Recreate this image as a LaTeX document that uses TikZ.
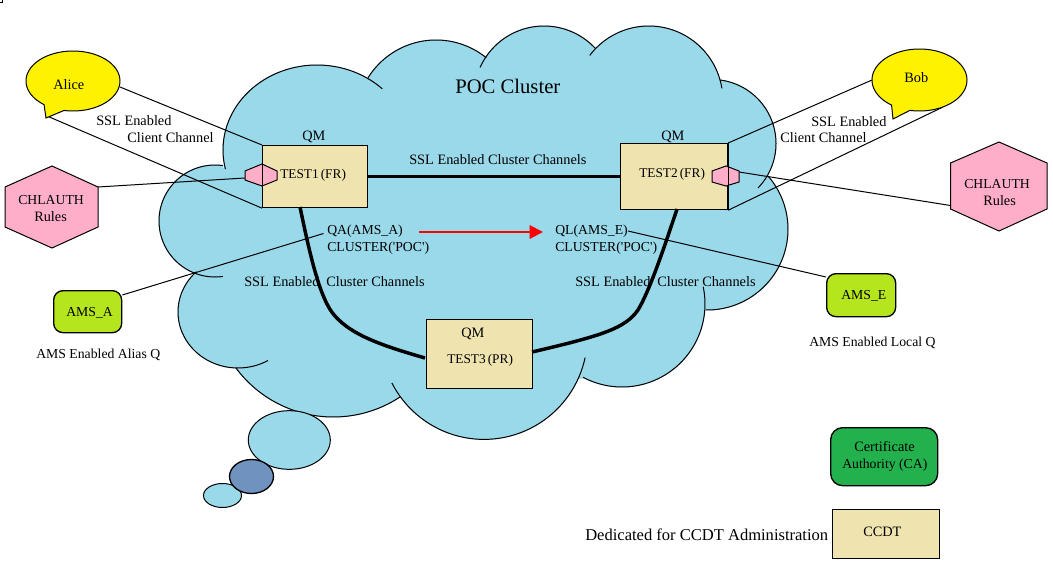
\documentclass[tikz,border=0pt]{standalone}
\usepackage{fontspec}
\setmainfont{Liberation Serif}[Ligatures=TeXOff]
\usetikzlibrary{arrows.meta,shapes.geometric}
\definecolor{cloudc}{HTML}{99D9EA}
\definecolor{tanc}{HTML}{EFE4B0}
\definecolor{pinkc}{HTML}{FFAEC9}
\definecolor{yelc}{HTML}{FFF200}
\definecolor{cagreen}{HTML}{22B14C}
\definecolor{limec}{HTML}{B5E61D}
\definecolor{darkb}{HTML}{7092BE}
% each lobe: centre x, centre y, radius x, radius y, start angle, end angle
\newcommand\cloudlobes[1]{%
#1{317}{150}{94}{85}{167}{314}%
#1{436}{120}{80}{80}{212}{309}%
#1{544}{96}{70}{70}{204}{317}%
#1{648.8}{100}{74}{74}{217}{351}%
#1{712}{143.5}{64}{64}{-83}{44}%
#1{707.2}{229.2}{80.8}{80.8}{-41}{91}%
#1{622}{304}{83}{83}{-12}{118}%
#1{484}{336}{103.4}{103.4}{12}{153}%
#1{333.3}{295.8}{121.2}{121.2}{56.6}{143.4}%
#1{238}{312}{60}{56}{60}{226}%
#1{215}{221}{56}{56}{82}{278}%
}
\newcommand\filllobe[6]{\filldraw[fill=cloudc,draw=cloudc,line width=0.7pt] plot[domain=#5:#6,samples=50] ({#1+#3*cos(\x)},{#2+#4*sin(\x)}) -- cycle;}
\newcommand\drawlobe[6]{\draw[thinl] plot[domain=#5:#6,samples=50] ({#1+#3*cos(\x)},{#2+#4*sin(\x)});}
\tikzset{
 thinl/.style={draw=black,line width=0.75pt},
 thickl/.style={draw=black,line width=2.6pt,line join=round},
 qmbox/.style={draw=black,line width=0.9pt,fill=tanc,rectangle,inner sep=0pt,anchor=north west},
 roundbox/.style={draw=black,line width=1pt,rectangle,rounded corners=7pt,inner sep=0pt,anchor=north west},
 txt/.style={anchor=base west,inner sep=0pt,font=\fontsize{10.75pt}{12pt}\selectfont,text=black},
 txts/.style={txt,font=\fontsize{10.3pt}{12pt}\selectfont},
 txtq/.style={txt,font=\fontsize{10pt}{12pt}\selectfont},
 hexa/.style={draw=black,line width=0.75pt,fill=pinkc},
 bubble/.style={draw=black,line width=0.75pt,ellipse,inner sep=0pt},
}
\begin{document}
\begin{tikzpicture}[x=0.75pt,y=-0.75pt]
\useasboundingbox (0,0) rectangle (1053,571);
\draw[thinl] (0,2.5) -- (2.5,2.5) -- (2.5,0);
% cloud
\cloudlobes\filllobe
\filldraw[fill=cloudc,draw=cloudc,line width=0.7pt] (224,168)--(368,78)--(487,58)--(595,48)--(722,88)--(768,177)--(706,310)--(583,378)--(400,397)--(236,368)--(197,272)--cycle;
\cloudlobes\drawlobe
% thought bubbles
\node[bubble,fill=cloudc,minimum width=61.5pt,minimum height=44pt] (th1) at (289.3,440) {};
\node[bubble,fill=cloudc,minimum width=28.5pt,minimum height=18pt] (th3) at (222.5,495.5) {};
\node[bubble,fill=darkb,line width=1pt,minimum width=33pt,minimum height=25.5pt] (th2) at (251.5,476.5) {};
% coordinates for connector ends
\coordinate (alicer) at (120,87);
\coordinate (alicet) at (47,116);
\coordinate (bobl) at (872,80);
\coordinate (bobb) at (943,107);
\coordinate (hexLr) at (98,187);
\coordinate (hexsL) at (245,178);
\coordinate (hexRl) at (950.5,205.5);
\coordinate (hexsR) at (739,172);
\coordinate (qae) at (323.5,233.5);
\coordinate (qle) at (628,231);
% QM boxes
\node[qmbox,minimum width=78.75pt,minimum height=46.5pt] (t1) at (262,145) {};
\node[qmbox,minimum width=80.25pt,minimum height=49.5pt] (t2) at (620,143) {};
\node[qmbox,minimum width=79.5pt,minimum height=51.75pt] (t3) at (426,319) {};
% AMS boxes
\node[roundbox,fill=limec,minimum width=51pt,minimum height=31.5pt] (amsa) at (53,290) {};
\node[roundbox,fill=limec,minimum width=51.75pt,minimum height=32.25pt] (amse) at (826,273) {};
% thin connectors
\draw[thinl] (alicer) -- (t1.north west);
\draw[thinl] (alicet) -- (t1.south west);
\draw[thinl] (bobl) -- (t2.north east);
\draw[thinl] (bobb) -- (t2.south east);
\draw[thinl] (hexLr) -- (hexsL);
\draw[thinl] (hexRl) -- (hexsR);
\draw[thinl] (amsa.north east) ++(0,5) -- (qae);
\draw[thinl] (amse.north west) ++(0,4) -- (qle);
% thick connectors
\draw[thickl] (t1.east) -- (t2.west |- t1.east);
\coordinate (t1b) at (300,207);
\coordinate (t3l) at (425,358);
\coordinate (t2b) at (677,209);
\coordinate (t3r) at (532,352);
\draw[thickl] (t1b) .. controls (310,255) and (320,300) .. (335,316) .. controls (352,335) and (380,345) .. (t3l);
\draw[thickl] (t2b) .. controls (665,245) and (650,290) .. (638,310) .. controls (625,328) and (605,335) .. (t3r);
% hexagons
\draw[hexa] (52,166)--(98,187)--(98,227)--(52,248)--(5,227)--(5,187)--cycle;
\draw[hexa] (999,142)--(1047,163)--(1047,209)--(999,231)--(950.5,209)--(950.5,163)--cycle;
\draw[hexa] (262,164)--(277,171)--(277,180)--(262,186)--(245,180)--(245,171)--cycle;
\draw[hexa] (726,166)--(739,171)--(739,182)--(726,186)--(712,182)--(712,171)--cycle;
\draw[thinl] (t1.north west) -- (t1.south west);
\draw[thinl] (t2.north east) -- (t2.south east);
% speech bubbles
\draw[thinl,fill=yelc] plot[domain=101:-232,samples=80,smooth] ({73+47*cos(\x)},{81+30*sin(\x)}) -- (46,118) -- cycle;
\draw[thinl,fill=yelc] plot[domain=101.7:-234,samples=80,smooth] ({919.5+47.5*cos(\x)},{80+31*sin(\x)}) -- (893,119) -- cycle;
% lower right boxes
\node[roundbox,fill=cagreen,rounded corners=9pt,minimum width=80.25pt,minimum height=43.5pt] (ca) at (830,427) {};
\node[qmbox,minimum width=80.25pt,minimum height=36.75pt] (ccdt) at (832,509) {};
% red arrow
\coordinate (ra) at (419,232);
\coordinate (rb) at (543,232);
\draw[draw=red,fill=red,line width=1.5pt,-{Triangle[length=10pt,width=10pt,fill=red]}] (ra) -- (rb);
% text
\node[txt,font=\fontsize{15.5pt}{18pt}\selectfont] (poc) at (455,93) {POC Cluster};
\node[txt] (lalice) at (53,89) {Alice};
\node[txt] (lbob) at (904,82) {Bob};
\node[txt] (s1a) at (96,125) {SSL Enabled};
\node[txt] (s1b) at (127,142) {Client Channel};
\node[txt] (s2a) at (811,126) {SSL Enabled};
\node[txt] (s2b) at (780,142) {Client Channel};
\node[txt] (q1) at (302,140) {QM};
\node[txt] (q2) at (661,140) {QM};
\node[txt] (q3) at (461,337) {QM};
\node[txtq] (l1) at (280,178) {TEST1\hspace{1.5pt}(FR)};
\node[txtq] (l2) at (639,177) {TEST2\hspace{1.5pt}(FR)};
\node[txtq] (l3) at (447,363) {TEST3\hspace{1.5pt}(PR)};
\node[txts] (c1a) at (18,204) {CHLAUTH};
\node[txt] (c1b) at (34,221) {Rules};
\node[txts] (c2a) at (964,188) {CHLAUTH};
\node[txt] (c2b) at (983,205) {Rules};
\node[txt] (scc) at (409,164) {SSL Enabled Cluster Channels};
\node[txts] (qaa) at (327,234) {QA(AMS\_A)};
\node[txts] (qab) at (327,251) {CLUSTER('POC')};
\node[txts] (qla) at (555,234) {QL(AMS\_E)};
\node[txts] (qlb) at (555,251) {CLUSTER('POC')};
\node[txt] (sca) at (244,286) {SSL Enabled};
\node[txt] (scb) at (326,286) {Cluster Channels};
\node[txt] (sda) at (575,286) {SSL Enabled};
\node[txt] (sdb) at (657,286) {Cluster Channels};
\node[txts] (la) at (66,316) {AMS\_A};
\node[txts] (le) at (841,299) {AMS\_E};
\node[txts] (lac) at (36,358) {AMS Enabled Alias Q};
\node[txts] (lec) at (809,346) {AMS Enabled Local Q};
\node[txt] (ca1) at (854,451) {Certificate};
\node[txts] (ca2) at (842,468) {Authority (CA)};
\node[txt,font=\fontsize{12.4pt}{14pt}\selectfont] (ded) at (585,540) {Dedicated for CCDT Administration};
\node[txt] (lccdt) at (863,536) {CCDT};
\end{tikzpicture}
\end{document}
